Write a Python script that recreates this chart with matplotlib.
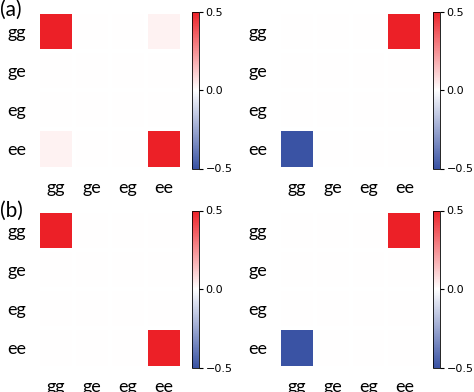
import numpy as np
import matplotlib
matplotlib.use('Agg')
from matplotlib import pyplot as plt
from matplotlib.colors import LinearSegmentedColormap

labels = ['gg', 'ge', 'eg', 'ee']

# density matrices
a_left = [[0.5, 0, 0, 0.03],
          [0, 0, 0, 0],
          [0, 0, 0, 0],
          [0.03, 0, 0, 0.5]]
a_right = [[0, 0, 0, 0.5],
           [0, 0, 0, 0],
           [0, 0, 0, 0],
           [-0.5, 0, 0, 0]]
b_left = [[0.5, 0, 0, 0],
          [0, 0, 0, 0],
          [0, 0, 0, 0],
          [0, 0, 0, 0.5]]
b_right = [[0, 0, 0, 0.5],
           [0, 0, 0, 0],
           [0, 0, 0, 0],
           [-0.5, 0, 0, 0]]

cmap = LinearSegmentedColormap.from_list('rb', ['#3a53a4', '#ffffff', '#ec2027'])

plt.rcParams['font.family'] = ['Lato', 'DejaVu Sans']

fig = plt.figure(figsize=(4.74, 3.92), dpi=100)
W, H = 474.0, 392.0

def px_axes(x0, y0, x1, y1):
    return fig.add_axes([x0 / W, 1 - y1 / H, (x1 - x0) / W, (y1 - y0) / H])

def panel(data, hx, hy):
    ax = px_axes(hx, hy, hx + 144, hy + 157)
    m = ax.pcolormesh(np.array(data), cmap=cmap, vmin=-0.5, vmax=0.5,
                      edgecolors='white', linewidth=1.5)
    ax.set_xlim(0, 4)
    ax.set_ylim(4, 0)
    ax.set_xticks(np.arange(4) + 0.5)
    ax.set_yticks(np.arange(4) + 0.5)
    ax.set_xticklabels(labels, fontsize=13)
    ax.set_yticklabels(labels, fontsize=13)
    ax.tick_params(length=0, pad=8)
    for s in ax.spines.values():
        s.set_visible(False)
    cax = px_axes(hx + 154, hy, hx + 161, hy + 157)
    cb = fig.colorbar(m, cax=cax, ticks=[-0.5, 0, 0.5])
    cb.ax.set_yticklabels(['\u22120.5', '0.0', '0.5'], family='DejaVu Sans', fontsize=8)
    cb.ax.tick_params(length=3, width=0.8, pad=2)
    cb.outline.set_linewidth(0.6)
    return ax

panel(a_left, 37.5, 11.5)
panel(a_right, 278.5, 11.5)
panel(b_left, 37.5, 210.5)
panel(b_right, 278.5, 210.5)

fig.text(0.0, 1 - 10 / H, '(a)', fontsize=15, va='center', ha='left')
fig.text(0.0, 1 - 211 / H, '(b)', fontsize=15, va='center', ha='left')

plt.savefig('out.png', dpi=100)
